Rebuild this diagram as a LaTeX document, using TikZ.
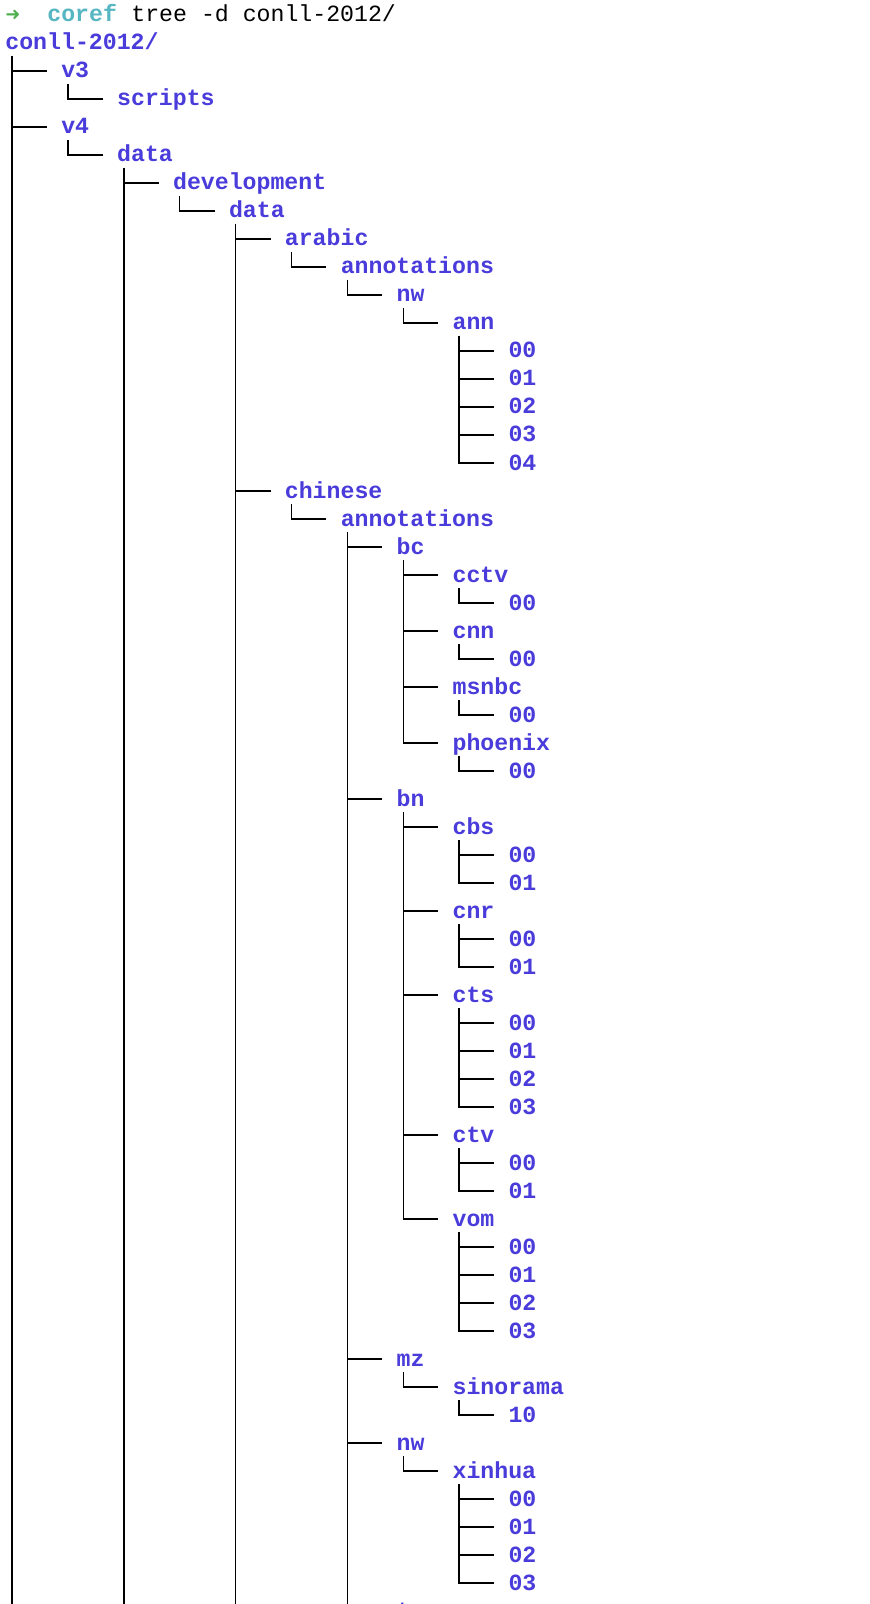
\documentclass[tikz,border=0pt]{standalone}
\usepackage{fontspec}
\setmonofont{Liberation Mono}
\newfontfamily\symfont{DejaVu Sans}
\usetikzlibrary{calc}
\definecolor{dir}{HTML}{4A3CDB}
\definecolor{cmd}{HTML}{56B6C2}
\definecolor{arr}{HTML}{4EB04E}
\tikzset{
  t/.style={anchor=base west,inner sep=0pt,font=\ttfamily\bfseries\fontsize{11.6pt}{12pt}\selectfont,text=dir},
  ln/.style={line width=0.75pt,black}
}
\newcommand\E[5]{%
  \node[t] (r#1) at ({5+55.9*#3},{43+28*(#1-1)+7}) {#5};
  \draw[ln] ($(r#2.base west)+(7,6)$) |- ($(r#1.base west)+(-14,-7)$);}
\begin{document}
\begin{tikzpicture}[x=0.5pt,y=-0.5pt]
\useasboundingbox (0,0) rectangle (870,1604);
\clip (0,0) rectangle (870,1604);
\fill[white] (0,0) rectangle (870,1604);
\node[t,text=arr,font=\symfont\fontsize{9pt}{10pt}\selectfont] (arrow) at (5,21) {➜};
\node[t,text=cmd] (coref) at (47,22) {coref};
\node[t,text=black,font=\ttfamily\fontsize{11.6pt}{12pt}\selectfont] (cmdl) at (131,22) {tree -d conll-2012/};
\node[t] (r1) at (5,50) {conll-2012/};
\E{2}{1}{1}{2}{v3}
\E{3}{2}{2}{3}{scripts}
\E{4}{1}{1}{4}{v4}
\E{5}{4}{2}{5}{data}
\E{6}{5}{3}{6}{development}
\E{7}{6}{4}{7}{data}
\E{8}{7}{5}{8}{arabic}
\E{9}{8}{6}{9}{annotations}
\E{10}{9}{7}{10}{nw}
\E{11}{10}{8}{11}{ann}
\E{12}{11}{9}{12}{00}
\E{13}{11}{9}{13}{01}
\E{14}{11}{9}{14}{02}
\E{15}{11}{9}{15}{03}
\E{16}{11}{9}{16}{04}
\E{17}{7}{5}{17}{chinese}
\E{18}{17}{6}{18}{annotations}
\E{19}{18}{7}{19}{bc}
\E{20}{19}{8}{20}{cctv}
\E{21}{20}{9}{21}{00}
\E{22}{19}{8}{22}{cnn}
\E{23}{22}{9}{23}{00}
\E{24}{19}{8}{24}{msnbc}
\E{25}{24}{9}{25}{00}
\E{26}{19}{8}{26}{phoenix}
\E{27}{26}{9}{27}{00}
\E{28}{18}{7}{28}{bn}
\E{29}{28}{8}{29}{cbs}
\E{30}{29}{9}{30}{00}
\E{31}{29}{9}{31}{01}
\E{32}{28}{8}{32}{cnr}
\E{33}{32}{9}{33}{00}
\E{34}{32}{9}{34}{01}
\E{35}{28}{8}{35}{cts}
\E{36}{35}{9}{36}{00}
\E{37}{35}{9}{37}{01}
\E{38}{35}{9}{38}{02}
\E{39}{35}{9}{39}{03}
\E{40}{28}{8}{40}{ctv}
\E{41}{40}{9}{41}{00}
\E{42}{40}{9}{42}{01}
\E{43}{28}{8}{43}{vom}
\E{44}{43}{9}{44}{00}
\E{45}{43}{9}{45}{01}
\E{46}{43}{9}{46}{02}
\E{47}{43}{9}{47}{03}
\E{48}{18}{7}{48}{mz}
\E{49}{48}{8}{49}{sinorama}
\E{50}{49}{9}{50}{10}
\E{51}{18}{7}{51}{nw}
\E{52}{51}{8}{52}{xinhua}
\E{53}{52}{9}{53}{00}
\E{54}{52}{9}{54}{01}
\E{55}{52}{9}{55}{02}
\E{56}{52}{9}{56}{03}
\E{57}{18}{7}{57}{tc}
% continuing branches
\draw[ln] ($(r1.base west)+(7,6)$) -- ++(0,1600);
\draw[ln] ($(r5.base west)+(7,6)$) -- ++(0,1600);
\draw[ln] ($(r7.base west)+(7,6)$) -- ++(0,1600);
\end{tikzpicture}
\end{document}
